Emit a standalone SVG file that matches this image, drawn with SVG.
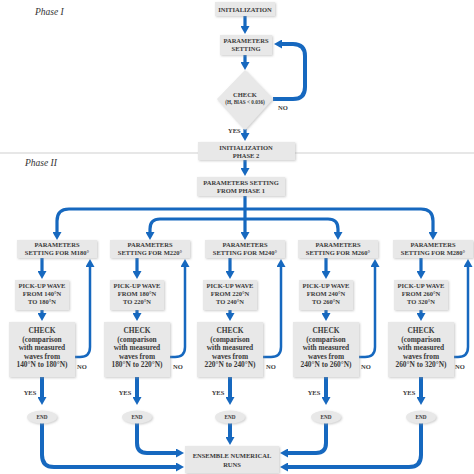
<svg xmlns="http://www.w3.org/2000/svg" width="474" height="474" viewBox="0 0 474 474">
<style>
.box{fill:#e8e8e8;filter:url(#sh)}
.t{font-family:"Liberation Serif",serif;font-weight:bold;font-size:6.5px;fill:#3a3a3a;text-anchor:middle}
.s{font-size:5.2px}
.k{font-size:7.4px}
.ph{font-family:"Liberation Serif",serif;font-style:italic;font-size:9.5px;fill:#333}
.c{fill:none;stroke:#1668bf;stroke-width:4;marker-end:url(#ah)}
.c3{stroke-width:3.2}
.c2{stroke-width:2.5}
.lbl{font-family:"Liberation Serif",serif;font-weight:bold;font-size:6.5px;fill:#3a3a3a}
</style>
<defs>
<filter id="sh" x="-10%" y="-10%" width="125%" height="135%">
<feDropShadow dx="1" dy="1" stdDeviation="0.8" flood-color="#999" flood-opacity="0.5"/>
</filter>
<marker id="ah" viewBox="0 0 8 9" refX="1" refY="4.5" markerWidth="8" markerHeight="9" markerUnits="userSpaceOnUse" orient="auto" preserveAspectRatio="none">
<path d="M0,0 L8,4.5 L0,9 z" fill="#1668bf"/>
</marker>
</defs>
<rect width="474" height="474" fill="#fff"/>
<line x1="0" y1="153" x2="474" y2="153" stroke="#cfcfcf" stroke-width="1"/>
<text class="ph" x="35" y="15">Phase I</text>
<text class="ph" x="25" y="166">Phase II</text>

<g id="connectors">
<path class="c c3" d="M245,16 V27"/>
<path class="c c3" d="M245,55 V63"/>
<path class="c" d="M273,99 H293 Q305,99 305,87 V56 Q305,44 293,44 H281"/>
<path class="c c3" d="M245,129 V134"/>
<path class="c c3" d="M245,160 V169"/>
<path class="c c3" d="M245,196 V233"/>
<path class="c c3" d="M245,209 H69 Q57,209 57,221 V233"/>
<path class="c c3" d="M245,209 H421 Q433,209 433,221 V233"/>
<path class="c c3" d="M245,219 H160 Q150,219 150,229 V233"/>
<path class="c c3" d="M245,219 H328 Q338,219 338,229 V233"/>
<path class="c c3" d="M42,258 V272"/>
<path class="c c3" d="M42,310 V314"/>
<path class="c c2" d="M75,357 H80 Q90,357 90,347 V266"/>
<path class="c" d="M42,377 V398"/>
<path class="c c3" d="M137,258 V272"/>
<path class="c c3" d="M137,310 V314"/>
<path class="c c2" d="M170,357 H175 Q185,357 185,347 V266"/>
<path class="c" d="M137,377 V398"/>
<path class="c c3" d="M230,258 V272"/>
<path class="c c3" d="M230,310 V314"/>
<path class="c c2" d="M263,357 H271 Q281,357 281,347 V266"/>
<path class="c" d="M230,377 V398"/>
<path class="c c3" d="M326,258 V272"/>
<path class="c c3" d="M326,310 V314"/>
<path class="c c2" d="M359,357 H365 Q375,357 375,347 V266"/>
<path class="c" d="M326,377 V398"/>
<path class="c c3" d="M421,258 V272"/>
<path class="c c3" d="M421,310 V314"/>
<path class="c c2" d="M454,357 H458 Q468,357 468,347 V266"/>
<path class="c" d="M421,377 V398"/>
<path class="c" d="M42,423 V455 Q42,467 54,467 H177"/>
<path class="c" d="M137,423 V443 Q137,453 147,453 H177"/>
<path class="c" d="M230,423 V438"/>
<path class="c" d="M326,423 V443 Q326,453 316,453 H287"/>
<path class="c" d="M421,423 V455 Q421,467 409,467 H287"/>
</g>

<g id="init">
<rect class="box" x="215" y="2" width="60" height="14"/>
<text class="t" x="245" y="12">INITIALIZATION</text>
</g>
<g id="params1">
<rect class="box" x="220" y="35" width="52" height="20"/>
<text class="t" x="246" y="43">PARAMETERS</text>
<text class="t" x="246" y="51">SETTING</text>
</g>
<g id="check1">
<polygon class="box" points="245,70 273,99 245,130 217,99"/>
<text class="t" x="245" y="97">CHECK</text>
<text class="t s" x="245" y="104">(H, BIAS &lt; 0.036)</text>
</g>
<text class="lbl" x="278" y="110">NO</text>
<text class="lbl" x="228" y="133">YES</text>
<g id="init2">
<rect class="box" x="198" y="142" width="97" height="18"/>
<text class="t" x="246" y="149.5">INITIALIZATION</text>
<text class="t" x="246" y="157.5">PHASE 2</text>
</g>
<g id="params2">
<rect class="box" x="197" y="177" width="88" height="19"/>
<text class="t" x="241" y="185">PARAMETERS SETTING</text>
<text class="t" x="241" y="193">FROM PHASE 1</text>
</g>

<g id="col1">
<rect class="box" x="17" y="240" width="80" height="18"/>
<text class="t" x="57" y="247">PARAMETERS</text>
<text class="t" x="57" y="255">SETTING FOR M180°</text>
<rect class="box" x="15" y="280" width="54" height="30"/>
<text class="t" x="42" y="288">PICK-UP WAVE</text>
<text class="t" x="42" y="296">FROM 140°N</text>
<text class="t" x="42" y="304">TO 180°N</text>
<rect class="box" x="9" y="322" width="66" height="55"/>
<text class="t k" x="42" y="333">CHECK</text>
<text class="t k" x="42" y="341.5">(comparison</text>
<text class="t k" x="42" y="350">with measured</text>
<text class="t k" x="42" y="358.5">waves from</text>
<text class="t k" x="42" y="367">140°N to 180°N)</text>
<text class="lbl" x="77" y="369">NO</text>
<text class="lbl" x="30" y="395" text-anchor="middle">YES</text>
<ellipse class="box" cx="42" cy="417" rx="15" ry="6.5"/>
<text class="t s" x="42" y="419">END</text>
</g>
<g id="col2">
<rect class="box" x="110" y="240" width="80" height="18"/>
<text class="t" x="150" y="247">PARAMETERS</text>
<text class="t" x="150" y="255">SETTING FOR M220°</text>
<rect class="box" x="110" y="280" width="54" height="30"/>
<text class="t" x="137" y="288">PICK-UP WAVE</text>
<text class="t" x="137" y="296">FROM 180°N</text>
<text class="t" x="137" y="304">TO 220°N</text>
<rect class="box" x="104" y="322" width="66" height="55"/>
<text class="t k" x="137" y="333">CHECK</text>
<text class="t k" x="137" y="341.5">(comparison</text>
<text class="t k" x="137" y="350">with measured</text>
<text class="t k" x="137" y="358.5">waves from</text>
<text class="t k" x="137" y="367">180°N to 220°N)</text>
<text class="lbl" x="173" y="369">NO</text>
<text class="lbl" x="125" y="395" text-anchor="middle">YES</text>
<ellipse class="box" cx="137" cy="417" rx="15" ry="6.5"/>
<text class="t s" x="137" y="419">END</text>
</g>
<g id="col3">
<rect class="box" x="205" y="240" width="80" height="18"/>
<text class="t" x="245" y="247">PARAMETERS</text>
<text class="t" x="245" y="255">SETTING FOR M240°</text>
<rect class="box" x="203" y="280" width="54" height="30"/>
<text class="t" x="230" y="288">PICK-UP WAVE</text>
<text class="t" x="230" y="296">FROM 220°N</text>
<text class="t" x="230" y="304">TO 240°N</text>
<rect class="box" x="197" y="322" width="66" height="55"/>
<text class="t k" x="230" y="333">CHECK</text>
<text class="t k" x="230" y="341.5">(comparison</text>
<text class="t k" x="230" y="350">with measured</text>
<text class="t k" x="230" y="358.5">waves from</text>
<text class="t k" x="230" y="367">220°N to 240°N)</text>
<text class="lbl" x="266" y="369">NO</text>
<text class="lbl" x="218" y="395" text-anchor="middle">YES</text>
<ellipse class="box" cx="230" cy="417" rx="15" ry="6.5"/>
<text class="t s" x="230" y="419">END</text>
</g>
<g id="col4">
<rect class="box" x="298" y="240" width="80" height="18"/>
<text class="t" x="338" y="247">PARAMETERS</text>
<text class="t" x="338" y="255">SETTING FOR M260°</text>
<rect class="box" x="299" y="280" width="54" height="30"/>
<text class="t" x="326" y="288">PICK-UP WAVE</text>
<text class="t" x="326" y="296">FROM 240°N</text>
<text class="t" x="326" y="304">TO 260°N</text>
<rect class="box" x="293" y="322" width="66" height="55"/>
<text class="t k" x="326" y="333">CHECK</text>
<text class="t k" x="326" y="341.5">(comparison</text>
<text class="t k" x="326" y="350">with measured</text>
<text class="t k" x="326" y="358.5">waves from</text>
<text class="t k" x="326" y="367">240°N to 260°N)</text>
<text class="lbl" x="361" y="369">NO</text>
<text class="lbl" x="314" y="395" text-anchor="middle">YES</text>
<ellipse class="box" cx="326" cy="417" rx="15" ry="6.5"/>
<text class="t s" x="326" y="419">END</text>
</g>
<g id="col5">
<rect class="box" x="393" y="240" width="80" height="18"/>
<text class="t" x="433" y="247">PARAMETERS</text>
<text class="t" x="433" y="255">SETTING FOR M280°</text>
<rect class="box" x="394" y="280" width="54" height="30"/>
<text class="t" x="421" y="288">PICK-UP WAVE</text>
<text class="t" x="421" y="296">FROM 260°N</text>
<text class="t" x="421" y="304">TO 320°N</text>
<rect class="box" x="388" y="322" width="66" height="55"/>
<text class="t k" x="421" y="333">CHECK</text>
<text class="t k" x="421" y="341.5">(comparison</text>
<text class="t k" x="421" y="350">with measured</text>
<text class="t k" x="421" y="358.5">waves from</text>
<text class="t k" x="421" y="367">260°N to 320°N)</text>
<text class="lbl" x="455" y="369">NO</text>
<text class="lbl" x="409" y="395" text-anchor="middle">YES</text>
<ellipse class="box" cx="421" cy="417" rx="15" ry="6.5"/>
<text class="t s" x="421" y="419">END</text>
</g>
<g id="ensemble">
<rect class="box" x="185" y="446" width="94" height="27"/>
<text class="t" x="232" y="458">ENSEMBLE NUMERICAL</text>
<text class="t" x="232" y="467">RUNS</text>
</g>
</svg>
